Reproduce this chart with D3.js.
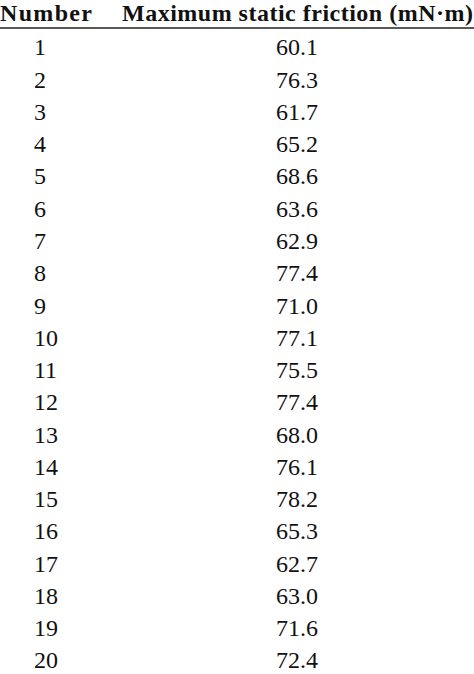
<!DOCTYPE html>
<html><head><meta charset="utf-8">
<script src="https://cdn.jsdelivr.net/npm/d3@7"></script>
<style>body{margin:0;background:#fff}svg{display:block}</style>
</head><body>
<script>
// ---- DATA ----
var numbers = d3.range(1, 21);
var frictions = ['60.1','76.3','61.7','65.2','68.6','63.6','62.9','77.4','71.0','77.1',
  '75.5','77.4','68.0','76.1','78.2','65.3','62.7','63.0','71.6','72.4'];
var headers = ['Number', 'Maximum static friction (mN\u00b7m)'];

// ---- RENDER ----
var svg = d3.select('body').append('svg').attr('width', 474).attr('height', 674);
var font = '"Liberation Serif", "DejaVu Serif", serif';

var y = d3.scalePoint().domain(numbers).range([47, 660]);

svg.append('text').attr('x', 0).attr('y', 21).text(headers[0])
  .attr('font-family', font).attr('font-weight', 'bold').attr('font-size', 24).attr('fill', '#111')
  .attr('textLength', 92);
svg.append('text').attr('x', 122).attr('y', 21).text(headers[1])
  .attr('font-family', font).attr('font-weight', 'bold').attr('font-size', 24).attr('fill', '#111')
  .attr('textLength', 351);

svg.append('line').attr('x1', 0).attr('x2', 474).attr('y1', 28).attr('y2', 28)
  .attr('stroke', '#222').attr('stroke-width', 1.5);

var rows = svg.selectAll('.row').data(numbers).enter().append('g').attr('class', 'row')
  .attr('transform', function(d) { return 'translate(0,' + y(d) + ')'; });

rows.append('text').attr('x', 34).attr('dy', '0.35em')
  .text(function(d) { return d; })
  .attr('font-family', font).attr('font-size', 24).attr('fill', '#111');

rows.append('text').attr('x', 297).attr('dy', '0.35em').attr('text-anchor', 'middle')
  .text(function(d, i) { return frictions[i]; })
  .attr('font-family', font).attr('font-size', 24).attr('fill', '#111');
</script>
</body></html>
